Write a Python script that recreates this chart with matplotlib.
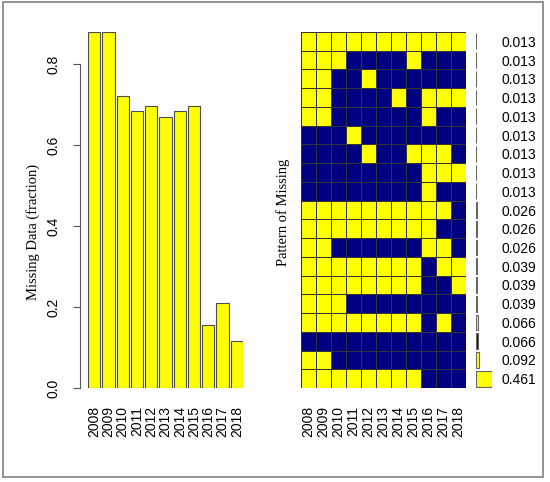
import numpy as np
import matplotlib
matplotlib.use("Agg")
import matplotlib.pyplot as plt
from matplotlib.colors import ListedColormap
from matplotlib.patches import Rectangle

# missing data per year (fraction) and the combination patterns (Y = missing)
years = [str(y) for y in range(2008, 2019)]
missing_frac = [0.879, 0.879, 0.722, 0.683, 0.696, 0.670, 0.683, 0.696, 0.156, 0.209, 0.117]

patterns = [
    "YYYYYYYYYYY",
    "YYYNNNNYNNN",
    "YYNNYNNNNNN",
    "YYNNNNYNYYY",
    "YYNNNNNNYNN",
    "NNNYNNNNNNN",
    "NNNNYNNYYYN",
    "NNNNNNNNYYY",
    "NNNNNNNNYNN",
    "YYYYYYYYYYN",
    "YYYYYYYYYNN",
    "YYNNNNNNYYN",
    "YYYYYYYYNYY",
    "YYYYYYYYNNY",
    "YYYNNNNNNNN",
    "YYYYYYYYNYN",
    "NNNNNNNNNNN",
    "YYNNNNNNNNN",
    "YYYYYYYYNNN",
]
props = [0.013] * 9 + [0.026] * 3 + [0.039] * 3 + [0.066, 0.066, 0.092, 0.461]
prop_labels = ["%.3f" % p for p in props]

yellow = "#ffff00"
navy = "#000080"
edge = "#4d4d4d"
W, H = 550, 482


def px_axes(fig, x0, y0, x1, y1):
    # pixel box (from top-left) -> figure axes
    return fig.add_axes([x0 / W, 1 - y1 / H, (x1 - x0) / W, (y1 - y0) / H])


fig = plt.figure(figsize=(5.5, 4.82), dpi=100)
fig.patches.append(Rectangle((3 / W, 1 - 477 / H), 540 / W, 475 / H, transform=fig.transFigure,
                             fill=False, edgecolor="#808080", linewidth=1.2))

# ---- left: bar chart of missing fraction
ax = px_axes(fig, 88, 32, 243, 388)
bw = 0.86
x = np.arange(len(years))
ax.bar(x, missing_frac, width=bw, color=yellow, edgecolor=edge, linewidth=0.8)
ax.set_xlim(-bw / 2, len(years) - 1 + bw / 2)
ax.set_ylim(0, 0.879)
for s in ["top", "right", "bottom"]:
    ax.spines[s].set_visible(False)
ax.spines["left"].set_position(("outward", 6))
ax.spines["left"].set_bounds(0, 0.8)
ax.spines["left"].set_color("#555555")
ax.set_yticks([0, 0.2, 0.4, 0.6, 0.8])
ax.set_yticklabels(["0.0", "0.2", "0.4", "0.6", "0.8"], rotation=90, va="center",
                   fontsize=10, family="Liberation Sans")
ax.tick_params(axis="y", length=5, color="#555555", pad=8.5)
ax.set_xticks(x)
ax.set_xticklabels(years, rotation=90, fontsize=10, family="Liberation Sans")
ax.tick_params(axis="x", length=0, pad=13)
fig.text(33 / W, 1 - 232 / H, "Missing Data (fraction)", rotation=90, ha="center", va="center",
         fontsize=10.5, family="Liberation Serif")

# ---- right: pattern grid
grid = np.array([[1 if c == "Y" else 0 for c in row] for row in patterns])
ax2 = px_axes(fig, 301, 32, 466, 388)
ax2.pcolormesh(grid, cmap=ListedColormap([navy, yellow]), vmin=0, vmax=1,
               edgecolors="#333333", linewidth=0.6)
ax2.set_ylim(len(patterns), 0)
ax2.set_xlim(0, len(years))
for s in ax2.spines.values():
    s.set_visible(False)
ax2.set_yticks([])
ax2.set_xticks(np.arange(len(years)) + 0.5)
ax2.set_xticklabels(years, rotation=90, fontsize=10, family="Liberation Sans")
ax2.tick_params(axis="x", length=0, pad=13)
fig.text(283 / W, 1 - 212 / H, "Pattern of Missing", rotation=90, ha="center", va="center",
         fontsize=10.5, family="Liberation Serif")

# ---- proportions of each combination
ax3 = px_axes(fig, 476, 32, 492, 388)
cols = [navy if "Y" not in row else yellow for row in patterns]
ax3.barh(np.arange(len(props)) + 0.5, props, height=0.84, color=cols, edgecolor="#666666",
         linewidth=0.8)
ax3.set_ylim(len(props), 0)
ax3.set_xlim(0, max(props))
for s in ax3.spines.values():
    s.set_visible(False)
ax3.set_xticks([])
ax3.yaxis.tick_right()
ax3.set_yticks(np.arange(len(props)) + 0.5)
ax3.set_yticklabels(prop_labels, fontsize=10, family="Liberation Sans")
ax3.tick_params(axis="y", length=0, pad=7)

fig.savefig("out.png", dpi=100)
